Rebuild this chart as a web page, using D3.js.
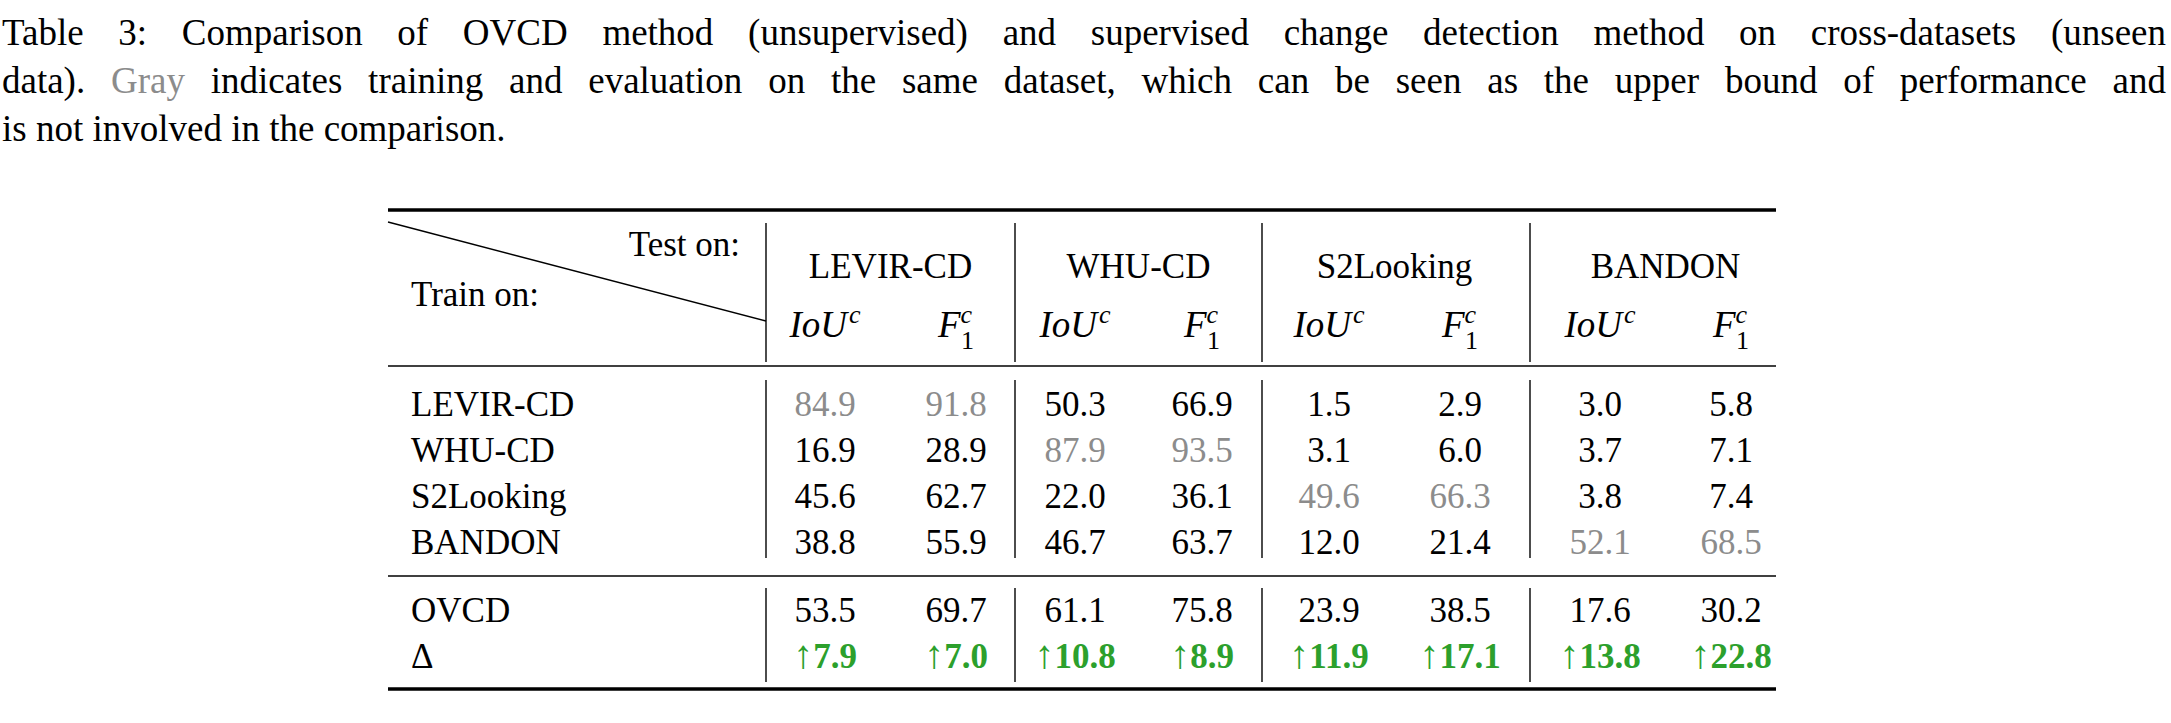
<!DOCTYPE html>
<html><head><meta charset="utf-8">
<script src="https://cdn.jsdelivr.net/npm/d3@7"></script>
<style>body{margin:0;background:#fff}svg{display:block}text{font-family:"Liberation Serif","DejaVu Serif",serif;fill:#000}</style>
</head><body><svg id="c" width="2171" height="723"></svg>
<script>
const captionLines = [
  "Table 3: Comparison of OVCD method (unsupervised) and supervised change detection method on cross-datasets (unseen",
  "data). |Gray| indicates training and evaluation on the same dataset, which can be seen as the upper bound of performance and",
  "is not involved in the comparison."
];
const testSets = ["LEVIR-CD","WHU-CD","S2Looking","BANDON"];
const metrics = ["IoU","F1"];
const trainSets = ["LEVIR-CD","WHU-CD","S2Looking","BANDON"];
const values = [
  [84.9,91.8,50.3,66.9,1.5,2.9,3.0,5.8],
  [16.9,28.9,87.9,93.5,3.1,6.0,3.7,7.1],
  [45.6,62.7,22.0,36.1,49.6,66.3,3.8,7.4],
  [38.8,55.9,46.7,63.7,12.0,21.4,52.1,68.5]
];
const ovcd = [53.5,69.7,61.1,75.8,23.9,38.5,17.6,30.2];
const delta = [7.9,7.0,10.8,8.9,11.9,17.1,13.8,22.8];

const svg = d3.select("#c");
const FS = 35, GRAY = "#8c8c8c", GREEN = "#2ca02c";

// caption (justified like LaTeX)
const cy = d3.scaleLinear().domain([0,1]).range([45,93]);
captionLines.forEach((l,i)=>{
  const t = svg.append("text").attr("x",2).attr("y",cy(i)).attr("font-size",37);
  l.split("|").forEach((p,j)=>t.append("tspan").text(p).style("fill", j===1?GRAY:"#000"));
  if(i<captionLines.length-1){
    const w = t.node().getComputedTextLength();
    const spaces = (l.match(/ /g)||[]).length;
    t.style("word-spacing", ((2166-2-w)/spaces)+"px");
  }
});

const colCenters = [825,956,1075,1202,1329,1460,1600,1731];
const x = d3.scaleOrdinal().domain(d3.range(8)).range(colCenters);
const vlines = [766,1015,1262,1530];
const L = 388, R = 1776;
const y = d3.scaleOrdinal().domain(["top","group","sub","mid","r0","r1","r2","r3","sep","ovcd","delta","bot"])
  .range([210,268,337,366,404,450,496,542,576,610,656,689]);

[["top",3.5],["mid",1.6],["sep",1.6],["bot",3.5]].forEach(([k,w])=>
  svg.append("line").attr("x1",L).attr("x2",R).attr("y1",y(k)).attr("y2",y(k)).attr("stroke","#000").attr("stroke-width",w));
const vspans=[[223,362],[380,558],[588,682]];
vlines.forEach(vx=>vspans.forEach(([a,b])=>svg.append("line").attr("x1",vx).attr("x2",vx).attr("y1",a).attr("y2",b).attr("stroke","#000").attr("stroke-width",1.4)));
svg.append("line").attr("x1",L).attr("y1",222).attr("x2",766).attr("y2",321).attr("stroke","#000").attr("stroke-width",1.4);
svg.append("text").attr("x",740).attr("y",256).attr("text-anchor","end").attr("font-size",FS).text("Test on:");
svg.append("text").attr("x",411).attr("y",306).attr("font-size",FS).text("Train on:");

testSets.forEach((s,i)=>svg.append("text").attr("x",(x(2*i)+x(2*i+1))/2).attr("y",y("group")+10).attr("text-anchor","middle").attr("font-size",FS).text(s));
d3.range(8).forEach(j=>{
  const t = svg.append("text").attr("x",x(j)).attr("y",y("sub")).attr("text-anchor","middle").attr("font-size",FS+2).style("font-style","italic");
  if(metrics[j%2]==="IoU"){
    t.append("tspan").text("IoU");
    t.append("tspan").attr("dx",2).attr("dy",-14).attr("font-size",26).text("c");
  } else {
    t.append("tspan").text("F");
    t.append("tspan").attr("dy",-14).attr("font-size",26).text("c");
    t.append("tspan").attr("dx",-11).attr("dy",26).attr("font-size",26).style("font-style","normal").text("1");
  }
});

trainSets.forEach((name,i)=>{
  const yy = y("r"+i)+12;
  svg.append("text").attr("x",411).attr("y",yy).attr("font-size",FS).text(name);
  values[i].forEach((v,j)=>svg.append("text").attr("x",x(j)).attr("y",yy).attr("text-anchor","middle").attr("font-size",FS)
    .style("fill", Math.floor(j/2)===i?GRAY:"#000").text(v.toFixed(1)));
});
svg.append("text").attr("x",411).attr("y",y("ovcd")+12).attr("font-size",FS).text("OVCD");
ovcd.forEach((v,j)=>svg.append("text").attr("x",x(j)).attr("y",y("ovcd")+12).attr("text-anchor","middle").attr("font-size",FS).text(v.toFixed(1)));
svg.append("text").attr("x",411).attr("y",y("delta")+12).attr("font-size",FS).text("Δ");
delta.forEach((v,j)=>{
  const t=svg.append("text").attr("x",x(j)).attr("y",y("delta")+12).attr("text-anchor","middle").attr("font-size",FS).style("fill",GREEN);
  t.append("tspan").style("fill",GREEN).attr("font-size",40).text("↑");
  t.append("tspan").style("fill",GREEN).attr("font-weight","bold").text(v.toFixed(1));
});
</script></body></html>
